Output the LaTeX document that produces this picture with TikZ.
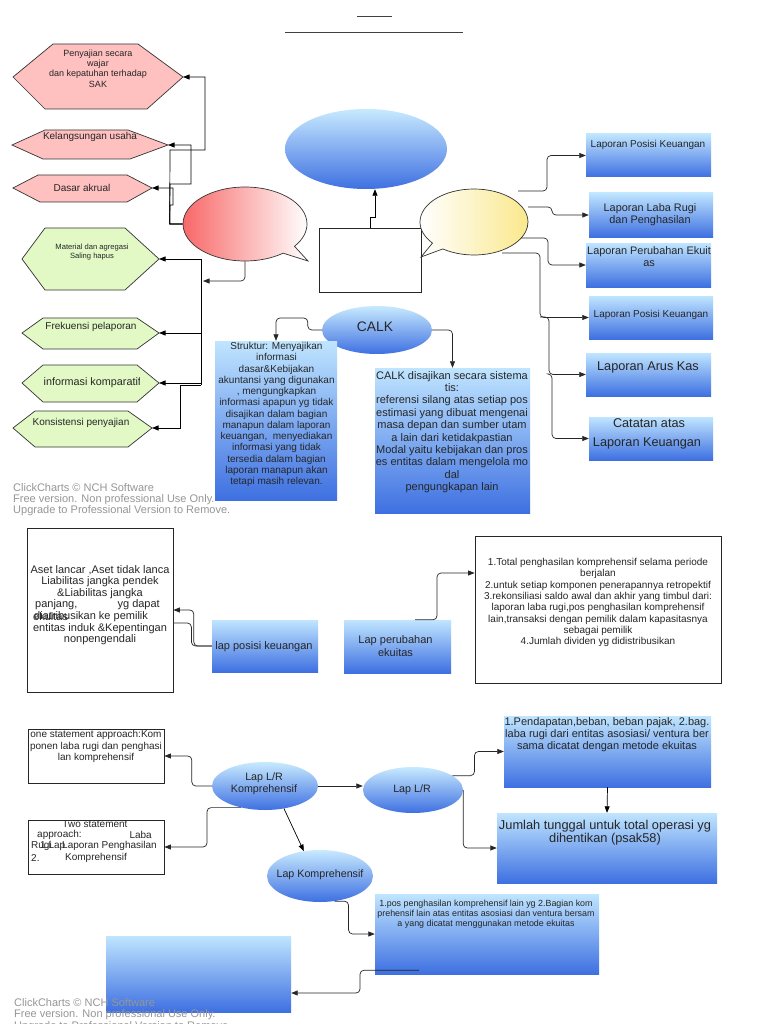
\documentclass[tikz,border=0pt]{standalone}
\usepackage{fontspec}
\setmainfont{Liberation Sans}
\usetikzlibrary{shapes.geometric,shapes.callouts,arrows.meta,calc}
\definecolor{pinkhex}{RGB}{255,192,192}
\definecolor{greenhex}{RGB}{226,249,198}
\definecolor{btop}{RGB}{192,229,255}
\definecolor{bbot}{RGB}{62,112,225}
\definecolor{etop}{RGB}{200,234,255}
\definecolor{redl}{RGB}{248,104,104}
\definecolor{yelr}{RGB}{250,232,140}
\definecolor{wmgray}{RGB}{150,150,150}
\newcommand\myfs[2]{\fontsize{#1}{#2}\selectfont}
\begin{document}
\begin{tikzpicture}[x=1pt,y=-1pt,
  arrS/.style={-{Triangle[length=6.5pt,width=5pt]}, draw=black, line width=0.7pt},
  arr/.style={-{Triangle[length=6.5pt,width=5pt]}, draw=black!85, line width=0.7pt, rounded corners=4pt},
  lnS/.style={draw=black, line width=0.7pt},
  ln/.style={draw=black!85, line width=0.7pt, rounded corners=4pt},
  hexp/.style={draw=black!80, line width=0.7pt, fill=pinkhex},
  hexg/.style={draw=black!80, line width=0.7pt, fill=greenhex},
  bbox/.style={rectangle, inner sep=0pt, top color=btop, bottom color=bbot, draw=none},
  wbox/.style={rectangle, inner sep=0pt, fill=white, draw=black!85, line width=0.8pt},
  bell/.style={ellipse, inner sep=0pt, top color=etop, bottom color=bbot, draw=none},
  txt/.style={inner sep=0pt, align=center, text=black!85},
  wm/.style={inner sep=0pt, anchor=west, text=wmgray, font=\myfs{11}{11.5}}
]
\useasboundingbox (0,0) rectangle (768,1024);
\fill[white] (0,0) rectangle (768,1024);

% title lines
\draw[line width=0.8pt, black!75] (357,16) -- (392,16);
\draw[line width=0.8pt, black!75] (285,32) -- (463,32);

% ---------- pink hexagons ----------
\draw[hexp] (13,77) -- (53,44) -- (138,44) -- (183,77) -- (147,109) -- (45,109) -- cycle;
\draw[hexp] (12,145) -- (45,130) -- (128,130) -- (168,145) -- (130,159) -- (43,159) -- cycle;
\draw[hexp] (13,188) -- (38,175) -- (127,175) -- (152,188) -- (127,202) -- (40,202) -- cycle;
\coordinate (h1) at (183,77);
\coordinate (h2) at (168,145);
\coordinate (h3) at (152,188);
% ---------- green hexagons ----------
\draw[hexg] (22,259) -- (45,228) -- (125,228) -- (159,259) -- (125,290) -- (45,290) -- cycle;
\draw[hexg] (22,333) -- (43,318) -- (137,318) -- (159,333) -- (137,349) -- (43,349) -- cycle;
\draw[hexg] (22,383) -- (43,365) -- (137,365) -- (159,383) -- (137,402) -- (43,402) -- cycle;
\draw[hexg] (13,428) -- (35,411) -- (128,411) -- (152,428) -- (128,447) -- (35,447) -- cycle;
\coordinate (h4) at (159,259);
\coordinate (h5) at (159,333);
\coordinate (h6) at (159,383);
\coordinate (h7) at (152,428);

\node[txt, font=\myfs{9}{10.3}] (th1) at (98,68.5) {Penyajian secara\\wajar\\dan kepatuhan terhadap\\SAK};
\node[txt, font=\myfs{10}{11}] (th2) at (90,137) {Kelangsungan usaha};
\node[txt, font=\myfs{10}{11}] (th3) at (82,188) {Dasar akrual};
\node[txt, font=\myfs{7.6}{8.4}] (th4) at (92,252) {Material dan agregasi\\Saling hapus};
\node[txt, font=\myfs{10}{11}] (th5) at (91,327) {Frekuensi pelaporan};
\begin{scope}
\clip (44.5,370) rectangle (139,398);
\node[txt, font=\myfs{10.8}{11}, anchor=west] (th6) at (43.5,383) {informasi komparatif};
\end{scope}
\node[txt, font=\myfs{10}{11}] (th7) at (81,423) {Konsistensi penyajian};

% ---------- top centre ----------
\node[bell, minimum width=162pt, minimum height=80pt] (be) at (366,149) {};
\node[wbox, minimum width=102pt, minimum height=64pt] (rc) at (370,260) {};
\node[ellipse callout, callout absolute pointer={(308,261)}, minimum width=124pt, minimum height=74pt,
      inner sep=0pt, left color=redl, right color=white, draw=black!80, line width=0.7pt] (pb) at (245,224) {};
\node[ellipse callout, callout absolute pointer={(421,257)}, minimum width=108pt, minimum height=66pt,
      inner sep=0pt, left color=white, right color=yelr, draw=black!80, line width=0.7pt] (yb) at (474,222) {};
\draw[arrS] (rc.north) -- ++(0,-10) -- ++(5,0) -- ($(be.south)+(9,0)$);

% left connectors from pink bubble
\draw[arrS] (pb.west) -- ++(-13,0) -- (170,150) -- (205,150) |- (h1);
\draw[arrS] (pb.west) -- ++(-13,0) -- (170,184) -- (191,184) |- (h2);
\draw[arrS] (pb.west) -- ++(-13,0) -- (170,205) -- (173,205) |- (h3);
\coordinate (g0) at (203,281);
\coordinate (g4) at (201,259);
\coordinate (g5) at (201,333);
\coordinate (g6) at (201,383);
\coordinate (g7) at (201,385);
\draw[arr] (pb.south) |- (g0);
\draw[lnS] (g4) -- (g7);
\draw[arrS] (g4) -- (h4);
\draw[arrS] (g5) -- (h5);
\draw[arrS] (g6) -- (h6);
\draw[arrS] (g7) -- (180,385) |- (h7);

% ---------- right column ----------
\node[bbox, minimum width=125pt, minimum height=43pt] (b1) at (648.5,155.5) {};
\node[bbox, minimum width=124pt, minimum height=44pt] (b2) at (651,215) {};
\node[bbox, minimum width=125pt, minimum height=44pt] (b3) at (648.5,265) {};
\node[bbox, minimum width=124pt, minimum height=43pt] (b4) at (651,317.5) {};
\node[bbox, minimum width=125pt, minimum height=43pt] (b5) at (648.5,374.5) {};
\node[bbox, minimum width=124pt, minimum height=43pt] (b6) at (651,438.5) {};
\node[txt, font=\myfs{10}{11}] (tb1) at (648,145) {Laporan Posisi Keuangan};
\node[txt, font=\myfs{10.9}{12}] (tb2) at (650,215) {Laporan Laba Rugi\\dan Penghasilan};
\node[txt, font=\myfs{10.9}{12.5}] (tb3) at (649,256.5) {Laporan Perubahan Ekuit\\as};
\node[txt, font=\myfs{10}{11}] (tb4) at (651,315) {Laporan Posisi Keuangan};
\node[txt, font=\myfs{12.7}{13}] (tb5) at (648,367) {Laporan Arus Kas};
\node[txt, font=\myfs{12.7}{13}] (tb6a) at (649,423) {Catatan atas};
\node[txt, font=\myfs{12.7}{13}] (tb6b) at (647,443) {Laporan Keuangan};

\coordinate (y1) at (518,191);
\coordinate (y2) at (528,207);
\coordinate (y3) at (521,238);
\coordinate (y4) at (502,253);
\draw[arr] (y1) -- (547,191) |- (b1.west);
\draw[arr] (y2) -- (552,207) |- (b2.west);
\draw[arr] (y3) -- (548,238) |- (b3.west);
\draw[arr] (y4) -- (540,253) |- (b4.west);
\draw[arr] (540,317) -- (549,317) |- (b5.west);
\draw[arr] (549,374) -- (552,374) |- (b6.west);

% ---------- CALK ----------
\node[bell, minimum width=110pt, minimum height=48pt] (calk) at (377,330) {};
\node[txt, font=\myfs{13.8}{14}] (tcalk) at (375,327) {CALK};
\node[bbox, minimum width=122pt, minimum height=159pt] (st) at (276,420.5) {};
\node[txt, font=\myfs{10}{11.25}] (tst) at (276.5,414.5) {Struktur: Menyajikan\\informasi\\dasar\&Kebijakan\\akuntansi yang digunakan\\, mengungkapkan\\informasi apapun yg tidak\\disajikan dalam bagian\\manapun dalam laporan\\keuangan,~ menyediakan\\informasi yang tidak\\tersedia dalam bagian\\laporan manapun akan\\tetapi masih relevan.};
\node[bbox, minimum width=155pt, minimum height=145pt] (cb) at (452.5,440.5) {};
\node[txt, font=\myfs{11}{12.4}] (tcb) at (452,432) {CALK disajikan secara sistema\\tis:\\referensi silang atas setiap pos\\estimasi yang dibuat mengenai\\masa depan dan sumber utam\\a lain dari ketidakpastian\\Modal yaitu kebijakan dan pros\\es entitas dalam mengelola mo\\dal\\pengungkapan lain};
\draw[arr] (calk.west) -- ++(-14,0) -- ++(0,-12) -| (st.north);
\draw[arr] (calk.east) -| (cb.north);

% watermark 1
\node[wm] (w1) at (13,488) {ClickCharts © NCH Software};
\node[wm] (w2) at (13,499.5) {Free version. Non professional Use Only.};
\node[wm] (w3) at (13,511) {Upgrade to Professional Version to Remove.};

% ---------- middle row ----------
\node[wbox, minimum width=146pt, minimum height=164pt] (as) at (100,610) {};
\node[txt, font=\myfs{11}{11.5}] (ta1) at (100,582) {Aset lancar ,Aset tidak lanca\\Liabilitas jangka pendek\\\&Liabilitas jangka};
\node[txt, font=\myfs{11}{11.5}, anchor=west] (ta2) at (35,605) {panjang,};
\node[txt, font=\myfs{11}{11.5}, anchor=east] (ta3) at (160,605) {yg dapat};
\node[txt, font=\myfs{11}{11.5}, anchor=west] (ta4) at (33,617) {ekuitas};
\node[txt, font=\myfs{11}{11.5}, anchor=west] (ta5) at (34,617) {diatribusikan ke pemilik};
\node[txt, font=\myfs{11}{11.5}] (ta6) at (100,634) {entitas induk \&Kepentingan\\nonpengendali};
\node[bbox, minimum width=106pt, minimum height=52pt] (lp) at (265,646) {};
\node[txt, font=\myfs{11}{12}] (tlp) at (264,647) {lap posisi keuangan};
\node[bbox, minimum width=107pt, minimum height=53pt] (lpe) at (397.5,646.5) {};
\node[txt, font=\myfs{11}{13}] (tlpe) at (395.5,646.5) {Lap perubahan\\ekuitas};
\node[wbox, minimum width=246pt, minimum height=147pt] (tb) at (598,609.5) {};
\node[txt, font=\myfs{10}{11.3}] (ttb) at (598,602.5) {1.Total penghasilan komprehensif selama periode\\berjalan\\2.untuk setiap komponen penerapannya retropektif\\3.rekonsiliasi saldo awal dan akhir yang timbul dari:\\laporan laba rugi,pos penghasilan komprehensif\\lain,transaksi dengan pemilik dalam kapasitasnya\\sebagai pemilik\\4.Jumlah dividen yg didistribusikan};
\draw[arr] (lp.west) -- ++(-18,0) |- (as.east);
\draw[ln] ([yshift=-13pt]as.east) -- ++(18,0) |- (lp.west);
\draw[arr] ([xshift=17.5pt]lpe.north) -- ++(22,0) |- ([yshift=36.5pt]tb.west);

% ---------- bottom ----------
\node[wbox, minimum width=136pt, minimum height=54pt] (os) at (96,756) {};
\node[txt, font=\myfs{10}{11.5}] (tos) at (96,746.5) {one statement approach:Kom\\ponen laba rugi dan penghasi\\lan komprehensif};
\node[wbox, minimum width=136pt, minimum height=54pt] (ts) at (96,847) {};
\node[txt, font=\myfs{10}{11}] (tts1) at (95,824) {Two statement};
\node[txt, font=\myfs{10}{11}, anchor=west] (tts2) at (37,835) {approach:};
\node[txt, font=\myfs{10}{11}, anchor=east] (tts3) at (152,835) {Laba};
\node[txt, font=\myfs{10}{11}, anchor=west] (tts4) at (31,846) {Rugi};
\node[txt, font=\myfs{10}{11}, anchor=west] (tts5) at (40,846) {1.Lap};
\node[txt, font=\myfs{10}{11}, anchor=west] (tts6) at (62,846) {Laporan Penghasilan};
\node[txt, font=\myfs{10}{11}, anchor=west] (tts7) at (31,858) {2.};
\node[txt, font=\myfs{10}{11}] (tts8) at (96,858) {Komprehensif};

\node[bell, minimum width=106pt, minimum height=48pt] (lrk) at (265,786) {};
\node[txt, font=\myfs{10.7}{12}] (tlrk) at (264,784) {Lap L/R\\Komprehensif};
\node[bell, minimum width=100pt, minimum height=46pt] (lr) at (413,790) {};
\node[txt, font=\myfs{10.7}{12}] (tlr) at (412,790) {Lap L/R};
\node[bell, minimum width=106pt, minimum height=52pt] (lk) at (320,876) {};
\node[txt, font=\myfs{10.7}{12}] (tlk) at (320,875) {Lap Komprehensif};

\node[bbox, minimum width=207pt, minimum height=71pt] (pd) at (607.5,751.5) {};
\node[txt, font=\myfs{11}{12}] (tpd) at (607,735) {1.Pendapatan,beban, beban pajak, 2.bag.\\laba rugi dari entitas asosiasi/ ventura ber\\sama dicatat dengan metode ekuitas};
\node[bbox, minimum width=220pt, minimum height=70pt] (jt) at (607,848) {};
\node[txt, font=\myfs{12.8}{13.5}] (tjt) at (605,832.5) {Jumlah tunggal untuk total operasi yg\\dihentikan (psak58)};
\node[bbox, minimum width=224pt, minimum height=80pt] (pp) at (487,934) {};
\node[txt, font=\myfs{8.9}{10}] (tpp) at (486,914) {1.pos penghasilan komprehensif lain yg 2.Bagian kom\\prehensif lain atas entitas asosiasi dan ventura bersam\\a yang dicatat menggunakan metode ekuitas};
\node[bbox, minimum width=185pt, minimum height=76pt] (eb) at (198.5,974) {};

\draw[arr] (lrk.west) -- ++(-20,0) |- (os.east);
\draw[arr] (lrk.222) -- ++(-34,0) |- (ts.east);
\draw[arr] (lrk.east) -- (lrk.east -| lr.west);
\draw[arrS] (lrk.310) -- (lk.123);
\draw[arr] (lr.20) -- ++(22,0) |- (pd.west);
\draw[arr] (lr.east) |- (jt.west);
\draw[arrS] (pd.south) -- (jt.north);
\draw[arr] (lk.-60) -- ++(14,0) |- (pp.west);
\draw[arr] ([shift={(-68,-4)}]pp.south) -- ++(-59,0) |- ([yshift=-19pt]eb.east);

% watermark 2
\begin{scope}
\clip (0,0) rectangle (768,1024);
\node[wm] (w4) at (14,1003) {ClickCharts © NCH Software};
\node[wm] (w5) at (14,1015) {Free version. Non professional Use Only.};
\node[wm] (w6) at (14,1027) {Upgrade to Professional Version to Remove.};
\end{scope}
\end{tikzpicture}
\end{document}
